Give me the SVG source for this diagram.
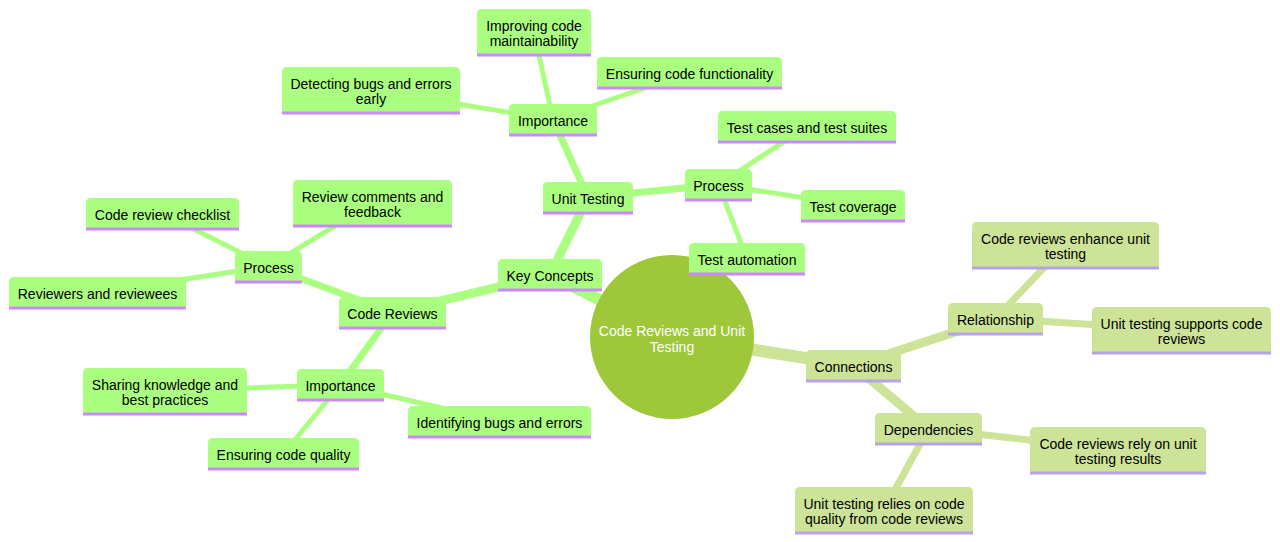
<svg xmlns="http://www.w3.org/2000/svg" width="1280" height="542" viewBox="0 0 1280 542">
<style>
  text { font-family: "Liberation Sans", Arial, Helvetica, sans-serif; font-size: 14px; fill: #000; text-anchor: middle; }
  .g path { fill: #abff80; }
  .g line { stroke: #cc88ff; stroke-width: 3; }
  .y path { fill: #cde498; }
  .y line { stroke: #b8a2e6; stroke-width: 3; }
  .eg { stroke: #abff80; fill: none; }
  .ey { stroke: #cde498; fill: none; }
  .d0 { stroke-width: 12; }
  .d1 { stroke-width: 9; }
  .d2 { stroke-width: 7; }
  .d3 { stroke-width: 5; }
  .root circle { fill: #9ec83a; }
  .root text { fill: #ffffff; }
</style>
<rect width="1280" height="542" fill="#ffffff"/>
<g id="connectors">
  <line class="eg d0" x1="672" y1="337" x2="550" y2="274.5"/>
  <line class="ey d0" x1="672" y1="337" x2="853.5" y2="365.5"/>
  <line class="eg d1" x1="550" y1="274.5" x2="588" y2="197.5"/>
  <line class="eg d1" x1="550" y1="274.5" x2="392.5" y2="312.5"/>
  <line class="ey d1" x1="853.5" y1="365.5" x2="995.5" y2="318.5"/>
  <line class="ey d1" x1="853.5" y1="365.5" x2="928.5" y2="428.5"/>
  <line class="eg d2" x1="588" y1="197.5" x2="553" y2="119.5"/>
  <line class="eg d2" x1="588" y1="197.5" x2="718.5" y2="184.5"/>
  <line class="eg d2" x1="392.5" y1="312.5" x2="268.5" y2="266.5"/>
  <line class="eg d2" x1="392.5" y1="312.5" x2="340.5" y2="384.5"/>
  <line class="ey d2" x1="995.5" y1="318.5" x2="1065.5" y2="245"/>
  <line class="ey d2" x1="995.5" y1="318.5" x2="1181.5" y2="330"/>
  <line class="ey d2" x1="928.5" y1="428.5" x2="1118" y2="450"/>
  <line class="ey d2" x1="928.5" y1="428.5" x2="884" y2="510"/>
  <line class="eg d3" x1="553" y1="119.5" x2="534" y2="32"/>
  <line class="eg d3" x1="553" y1="119.5" x2="689.5" y2="72.5"/>
  <line class="eg d3" x1="553" y1="119.5" x2="371" y2="90"/>
  <line class="eg d3" x1="718.5" y1="184.5" x2="807" y2="126.5"/>
  <line class="eg d3" x1="718.5" y1="184.5" x2="853" y2="205.5"/>
  <line class="eg d3" x1="718.5" y1="184.5" x2="747" y2="258.5"/>
  <line class="eg d3" x1="268.5" y1="266.5" x2="162.5" y2="213.5"/>
  <line class="eg d3" x1="268.5" y1="266.5" x2="372.5" y2="203"/>
  <line class="eg d3" x1="268.5" y1="266.5" x2="97.5" y2="292.5"/>
  <line class="eg d3" x1="340.5" y1="384.5" x2="165" y2="391"/>
  <line class="eg d3" x1="340.5" y1="384.5" x2="499.5" y2="421.5"/>
  <line class="eg d3" x1="340.5" y1="384.5" x2="283.5" y2="453.5"/>
</g>

<g id="root" class="root">
  <circle cx="672" cy="337" r="82"/>
  <text x="672" y="336">Code Reviews and Unit</text>
  <text x="672" y="352">Testing</text>
</g>

<g id="key-concepts" class="g" transform="translate(498,259)">
  <path d="M0 31 V5 Q0 0 5 0 H99 Q104 0 104 5 V31 Z"/><line x1="0" y1="31" x2="104" y2="31"/>
  <text x="52" y="22">Key Concepts</text>
</g>
<g id="unit-testing" class="g" transform="translate(543,182)">
  <path d="M0 31 V5 Q0 0 5 0 H85 Q90 0 90 5 V31 Z"/><line x1="0" y1="31" x2="90" y2="31"/>
  <text x="45" y="22">Unit Testing</text>
</g>
<g id="ut-importance" class="g" transform="translate(509,104)">
  <path d="M0 31 V5 Q0 0 5 0 H83 Q88 0 88 5 V31 Z"/><line x1="0" y1="31" x2="88" y2="31"/>
  <text x="44" y="22">Importance</text>
</g>
<g id="improving" class="g" transform="translate(477,9)">
  <path d="M0 46 V5 Q0 0 5 0 H109 Q114 0 114 5 V46 Z"/><line x1="0" y1="46" x2="114" y2="46"/>
  <text x="57" y="21.7">Improving code</text>
  <text x="57" y="37">maintainability</text>
</g>
<g id="ensuring-functionality" class="g" transform="translate(597,57)">
  <path d="M0 31 V5 Q0 0 5 0 H180 Q185 0 185 5 V31 Z"/><line x1="0" y1="31" x2="185" y2="31"/>
  <text x="92.5" y="22">Ensuring code functionality</text>
</g>
<g id="detecting" class="g" transform="translate(282,67)">
  <path d="M0 46 V5 Q0 0 5 0 H173 Q178 0 178 5 V46 Z"/><line x1="0" y1="46" x2="178" y2="46"/>
  <text x="89" y="21.7">Detecting bugs and errors</text>
  <text x="89" y="37">early</text>
</g>
<g id="ut-process" class="g" transform="translate(685,169)">
  <path d="M0 31 V5 Q0 0 5 0 H62 Q67 0 67 5 V31 Z"/><line x1="0" y1="31" x2="67" y2="31"/>
  <text x="33.5" y="22">Process</text>
</g>
<g id="test-cases" class="g" transform="translate(718,111)">
  <path d="M0 31 V5 Q0 0 5 0 H173 Q178 0 178 5 V31 Z"/><line x1="0" y1="31" x2="178" y2="31"/>
  <text x="89" y="22">Test cases and test suites</text>
</g>
<g id="test-coverage" class="g" transform="translate(801,190)">
  <path d="M0 31 V5 Q0 0 5 0 H99 Q104 0 104 5 V31 Z"/><line x1="0" y1="31" x2="104" y2="31"/>
  <text x="52" y="22">Test coverage</text>
</g>
<g id="test-automation" class="g" transform="translate(689,243)">
  <path d="M0 31 V5 Q0 0 5 0 H111 Q116 0 116 5 V31 Z"/><line x1="0" y1="31" x2="116" y2="31"/>
  <text x="58" y="22">Test automation</text>
</g>
<g id="code-reviews" class="g" transform="translate(339,297)">
  <path d="M0 31 V5 Q0 0 5 0 H102 Q107 0 107 5 V31 Z"/><line x1="0" y1="31" x2="107" y2="31"/>
  <text x="53.5" y="22">Code Reviews</text>
</g>
<g id="cr-process" class="g" transform="translate(235,251)">
  <path d="M0 31 V5 Q0 0 5 0 H62 Q67 0 67 5 V31 Z"/><line x1="0" y1="31" x2="67" y2="31"/>
  <text x="33.5" y="22">Process</text>
</g>
<g id="checklist" class="g" transform="translate(86,198)">
  <path d="M0 31 V5 Q0 0 5 0 H148 Q153 0 153 5 V31 Z"/><line x1="0" y1="31" x2="153" y2="31"/>
  <text x="76.5" y="22">Code review checklist</text>
</g>
<g id="review-comments" class="g" transform="translate(293,180)">
  <path d="M0 46 V5 Q0 0 5 0 H154 Q159 0 159 5 V46 Z"/><line x1="0" y1="46" x2="159" y2="46"/>
  <text x="79.5" y="21.7">Review comments and</text>
  <text x="79.5" y="37">feedback</text>
</g>
<g id="reviewers" class="g" transform="translate(9,277)">
  <path d="M0 31 V5 Q0 0 5 0 H172 Q177 0 177 5 V31 Z"/><line x1="0" y1="31" x2="177" y2="31"/>
  <text x="88.5" y="22">Reviewers and reviewees</text>
</g>
<g id="cr-importance" class="g" transform="translate(297,369)">
  <path d="M0 31 V5 Q0 0 5 0 H82 Q87 0 87 5 V31 Z"/><line x1="0" y1="31" x2="87" y2="31"/>
  <text x="43.5" y="22">Importance</text>
</g>
<g id="sharing" class="g" transform="translate(83,368)">
  <path d="M0 46 V5 Q0 0 5 0 H159 Q164 0 164 5 V46 Z"/><line x1="0" y1="46" x2="164" y2="46"/>
  <text x="82" y="21.7">Sharing knowledge and</text>
  <text x="82" y="37">best practices</text>
</g>
<g id="identifying" class="g" transform="translate(408,406)">
  <path d="M0 31 V5 Q0 0 5 0 H178 Q183 0 183 5 V31 Z"/><line x1="0" y1="31" x2="183" y2="31"/>
  <text x="91.5" y="22">Identifying bugs and errors</text>
</g>
<g id="ensuring-quality" class="g" transform="translate(208,438)">
  <path d="M0 31 V5 Q0 0 5 0 H146 Q151 0 151 5 V31 Z"/><line x1="0" y1="31" x2="151" y2="31"/>
  <text x="75.5" y="22">Ensuring code quality</text>
</g>

<g id="connections" class="y" transform="translate(806,350)">
  <path d="M0 31 V5 Q0 0 5 0 H90 Q95 0 95 5 V31 Z"/><line x1="0" y1="31" x2="95" y2="31"/>
  <text x="47.5" y="22">Connections</text>
</g>
<g id="relationship" class="y" transform="translate(948,303)">
  <path d="M0 31 V5 Q0 0 5 0 H90 Q95 0 95 5 V31 Z"/><line x1="0" y1="31" x2="95" y2="31"/>
  <text x="47.5" y="22">Relationship</text>
</g>
<g id="enhance" class="y" transform="translate(972,222)">
  <path d="M0 46 V5 Q0 0 5 0 H182 Q187 0 187 5 V46 Z"/><line x1="0" y1="46" x2="187" y2="46"/>
  <text x="93.5" y="21.7">Code reviews enhance unit</text>
  <text x="93.5" y="37">testing</text>
</g>
<g id="supports" class="y" transform="translate(1092,307)">
  <path d="M0 46 V5 Q0 0 5 0 H174 Q179 0 179 5 V46 Z"/><line x1="0" y1="46" x2="179" y2="46"/>
  <text x="89.5" y="21.7">Unit testing supports code</text>
  <text x="89.5" y="37">reviews</text>
</g>
<g id="dependencies" class="y" transform="translate(875,413)">
  <path d="M0 31 V5 Q0 0 5 0 H102 Q107 0 107 5 V31 Z"/><line x1="0" y1="31" x2="107" y2="31"/>
  <text x="53.5" y="22">Dependencies</text>
</g>
<g id="rely" class="y" transform="translate(1030,427)">
  <path d="M0 46 V5 Q0 0 5 0 H171 Q176 0 176 5 V46 Z"/><line x1="0" y1="46" x2="176" y2="46"/>
  <text x="88" y="21.7">Code reviews rely on unit</text>
  <text x="88" y="37">testing results</text>
</g>
<g id="relies-on" class="y" transform="translate(795,487)">
  <path d="M0 46 V5 Q0 0 5 0 H173 Q178 0 178 5 V46 Z"/><line x1="0" y1="46" x2="178" y2="46"/>
  <text x="89" y="21.7">Unit testing relies on code</text>
  <text x="89" y="37">quality from code reviews</text>
</g>
</svg>
